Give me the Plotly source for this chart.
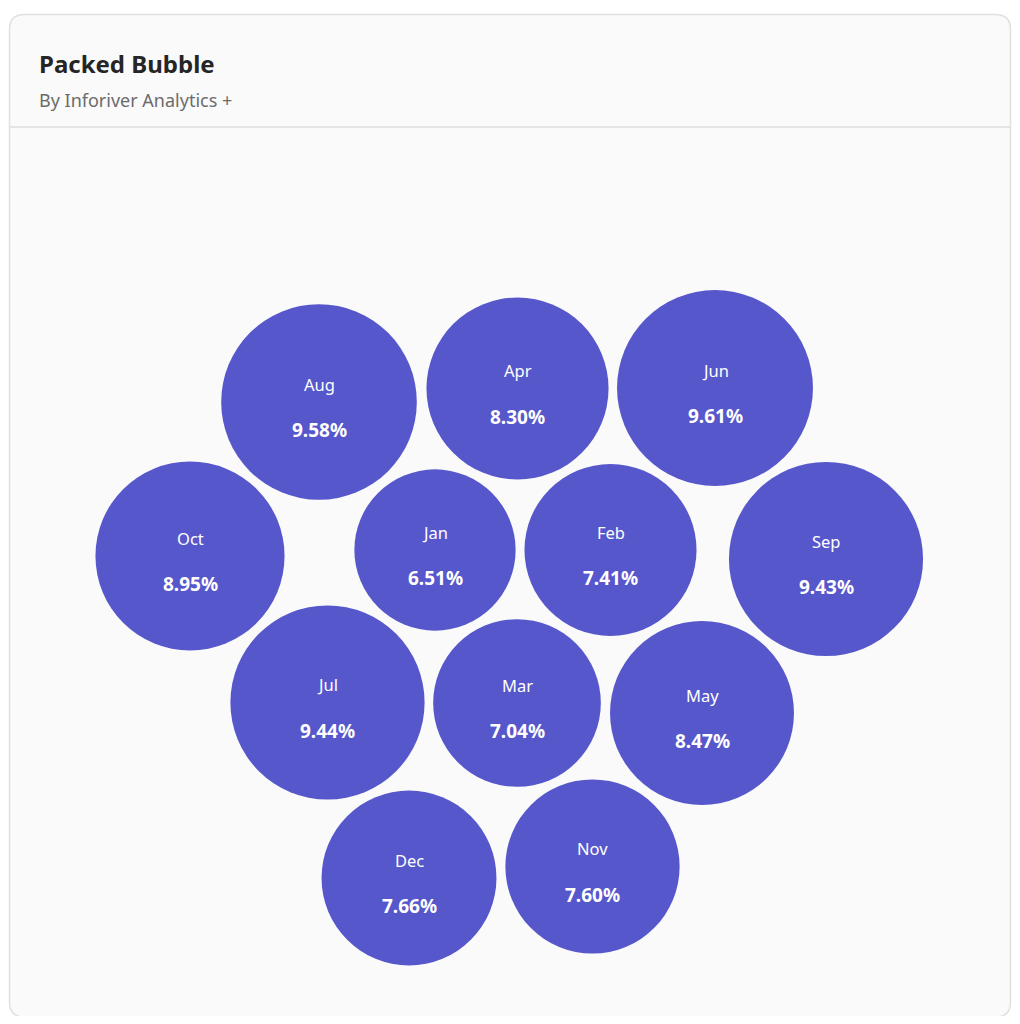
"""
Packed bubble chart of monthly share (%), drawn as a card with
title, subtitle and a cluster of equally coloured bubbles.
"""
import numpy as np
import plotly.graph_objects as go

# data
months = ["Aug", "Apr", "Jun", "Oct", "Jan", "Feb", "Sep", "Jul", "Mar", "May", "Dec", "Nov"]
shares = [9.58, 8.30, 9.61, 8.95, 6.51, 7.41, 9.43, 9.44, 7.04, 8.47, 7.66, 7.60]
# packed positions of the bubble centres (layout units = screen px)
bubble_x = [319, 517.5, 715, 190, 435, 610.5, 826, 327.5, 517, 702, 409, 592.5]
bubble_y = [402, 388.5, 388, 556, 550, 550, 559, 702.5, 703, 713, 878, 866.5]

BUBBLE_COLOR = "#5757CC"
FONT = "Noto Sans"
PX_PER_SQRT = 31.6  # radius in px per sqrt(value) -> area proportional to value

# page is offset 8px by the body margin, so data units == screenshot px
W, H = 1004, 1008
OFF = 8


def rounded_rect(x0, y0, x1, y1, r):
    return (f"M {x0 + r},{y0} L {x1 - r},{y0} Q {x1},{y0} {x1},{y0 + r} "
            f"L {x1},{y1 - r} Q {x1},{y1} {x1 - r},{y1} L {x0 + r},{y1} "
            f"Q {x0},{y1} {x0},{y1 - r} L {x0},{y0 + r} Q {x0},{y0} {x0 + r},{y0} Z")


def create_figure():
    diameters = [2 * PX_PER_SQRT * np.sqrt(v) for v in shares]

    fig = go.Figure()
    fig.add_trace(
        go.Scatter(
            x=bubble_x,
            y=bubble_y,
            mode="markers",
            marker=dict(size=diameters, sizemode="diameter", color=BUBBLE_COLOR,
                        opacity=1, line=dict(width=0)),
            text=months,
            customdata=shares,
            hovertemplate="%{text}: %{customdata:.2f}%<extra></extra>",
            showlegend=False,
        )
    )

    # labels: month name above, value below
    for m, v, x, y in zip(months, shares, bubble_x, bubble_y):
        fig.add_annotation(x=x, y=y, text=m, showarrow=False, yshift=18,
                           font=dict(family=FONT, size=16.5, color="white"))
        fig.add_annotation(x=x, y=y, text=f"<b>{v:.2f}%</b>", showarrow=False, yshift=-28,
                           font=dict(family=FONT, size=19, color="white"))

    # card background, border and header separator
    fig.add_shape(type="path", path=rounded_rect(9.5, 14.5, 1010.5, 1017, 15),
                  xref="x", yref="y", fillcolor="#FAFAFA",
                  line=dict(color="#E0E0E0", width=1.5), layer="below")
    fig.add_shape(type="line", x0=9.5, x1=1010.5, y0=127, y1=127, xref="x", yref="y",
                  line=dict(color="#E4E4E4", width=2), layer="below")

    # header text
    fig.add_annotation(x=37, y=63, text="<b>Packed Bubble</b>", xanchor="left",
                       showarrow=False, font=dict(family=FONT, size=24, color="#252525"))
    fig.add_annotation(x=37, y=100, text="By Inforiver Analytics +", xanchor="left",
                       showarrow=False, font=dict(family=FONT, size=18, color="#6B6B6B"))

    fig.update_layout(
        width=W, height=H,
        margin=dict(l=0, r=0, t=0, b=0),
        paper_bgcolor="white", plot_bgcolor="white",
        showlegend=False,
    )
    fig.update_xaxes(range=[OFF, OFF + W], visible=False, fixedrange=True)
    fig.update_yaxes(range=[OFF + H, OFF], visible=False, fixedrange=True)
    return fig


if __name__ == "__main__":
    fig = create_figure()
    fig.write_html("out.html")
